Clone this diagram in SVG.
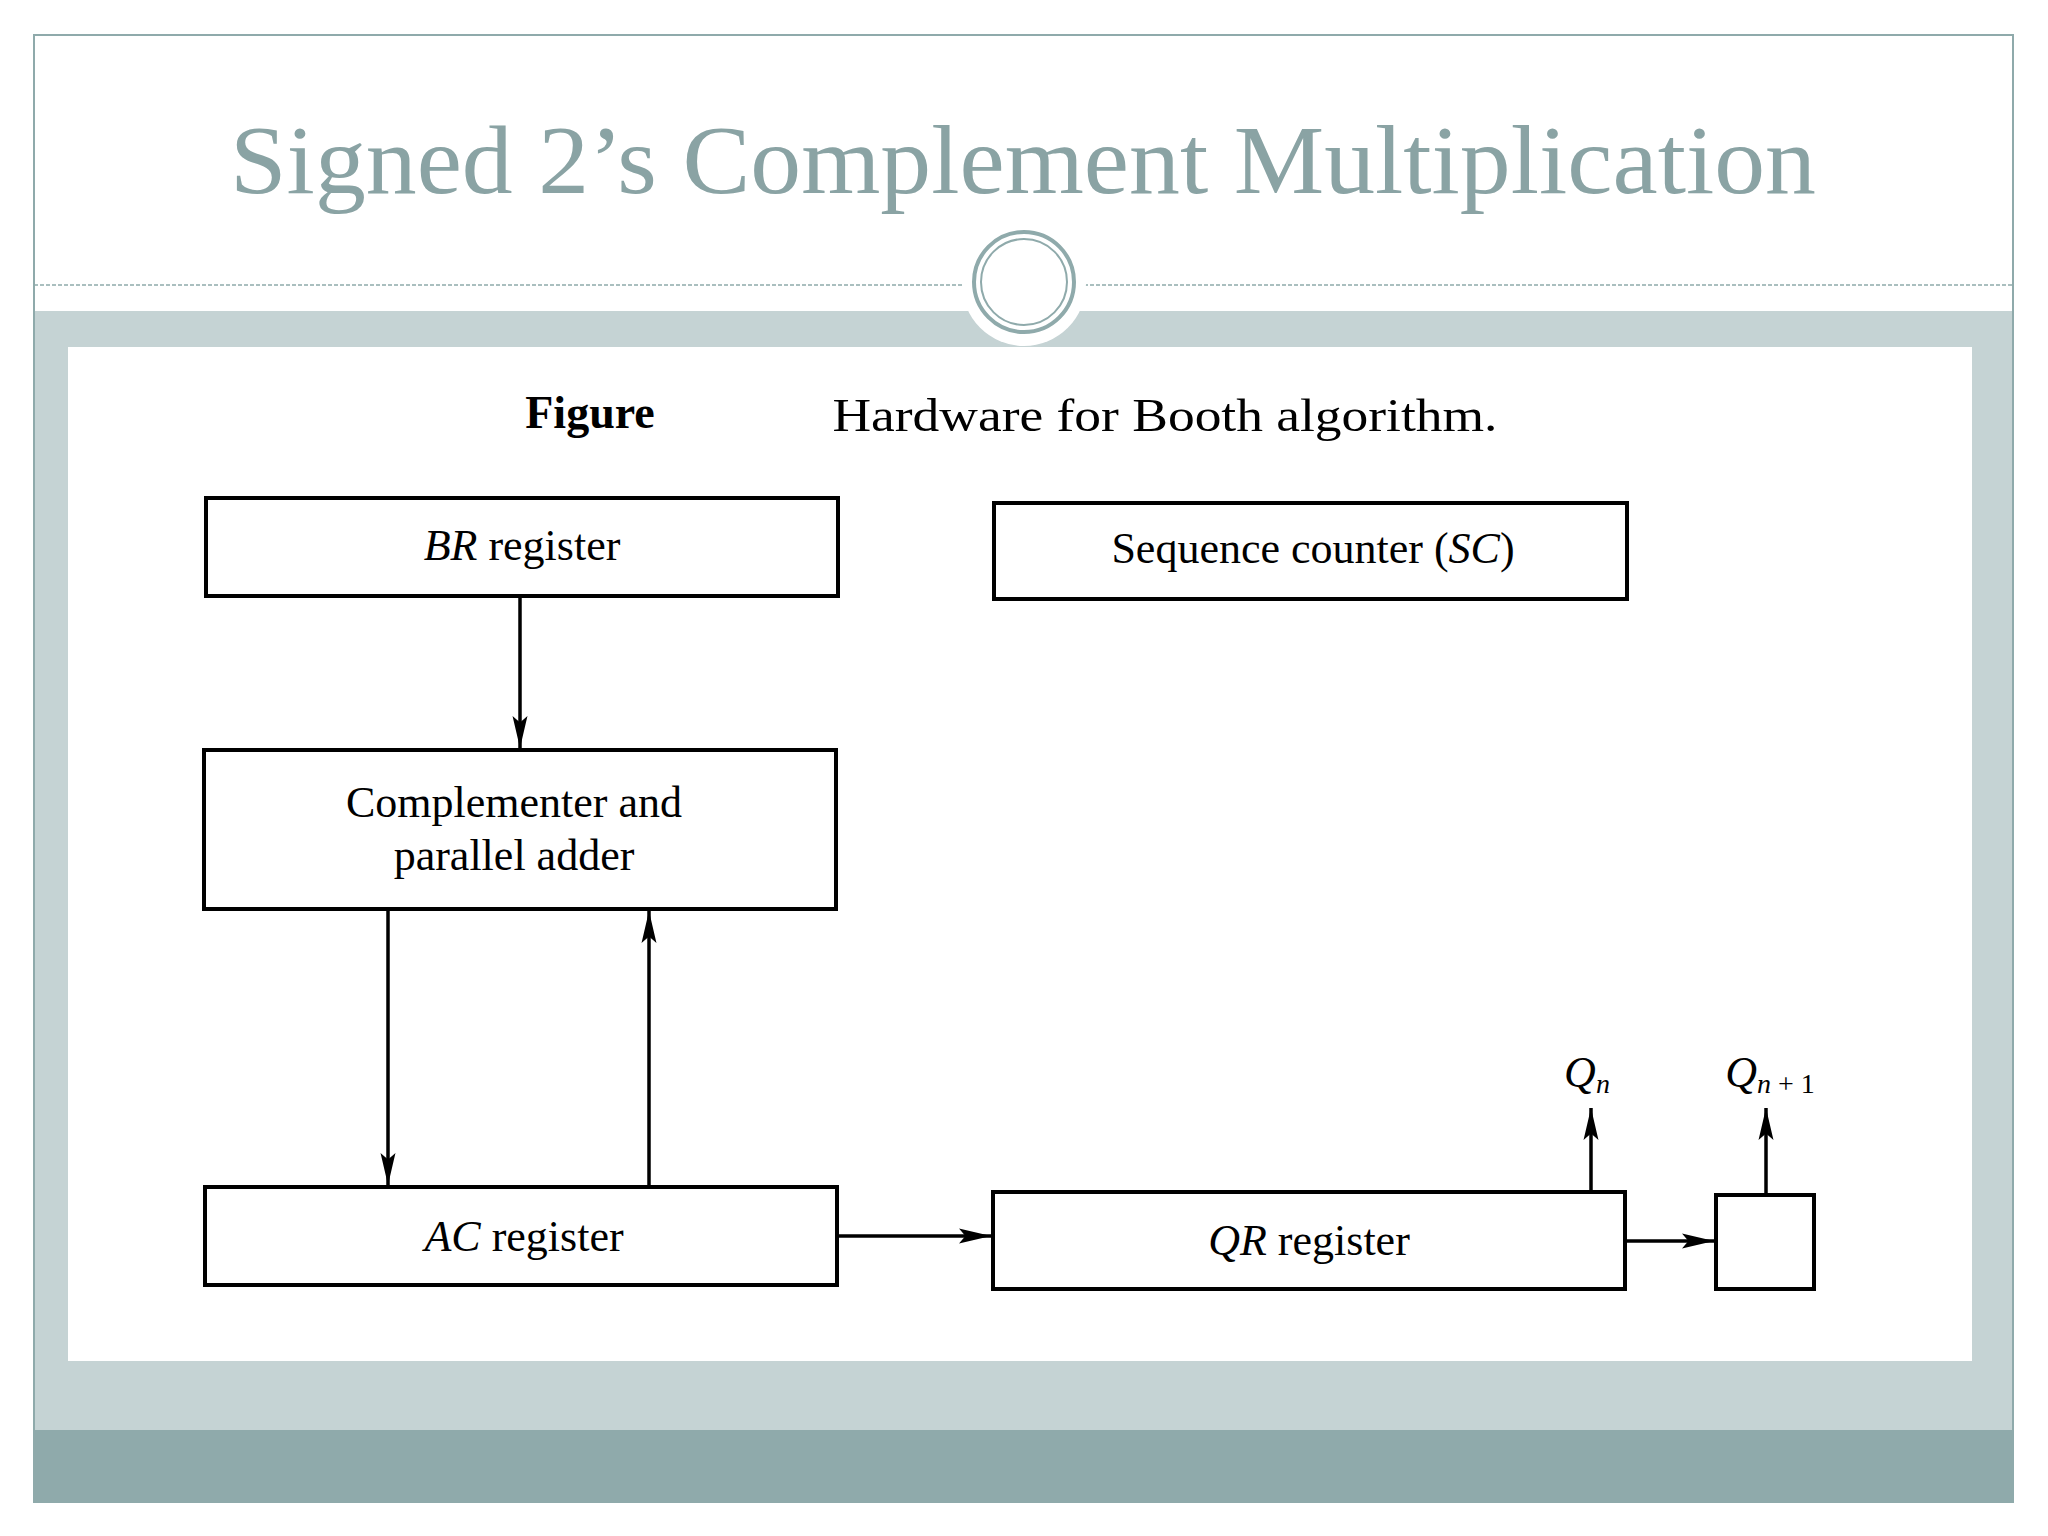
<svg xmlns="http://www.w3.org/2000/svg" width="2048" height="1536" viewBox="0 0 2048 1536">
<defs>
<marker id="ah" viewBox="0 0 30 14" refX="30" refY="7" markerWidth="32" markerHeight="16" markerUnits="userSpaceOnUse" orient="auto"><path d="M0,0 L30,7 L0,14 L6,7 z" fill="#000"/></marker>
<style>
.b{fill:#fff;stroke:#000;stroke-width:4}
.t{font-family:"Liberation Serif",serif;font-size:44px;fill:#000;text-anchor:middle}
.c line{stroke:#000;stroke-width:3.5;marker-end:url(#ah)}
</style>
</defs>
<rect width="2048" height="1536" fill="#fff"/>
<rect x="34" y="311" width="1979" height="1119" fill="#c5d3d4"/>
<rect x="34" y="1430" width="1979" height="72" fill="#8faaab"/>
<rect x="34" y="35" width="1979" height="1467" fill="none" stroke="#8faaab" stroke-width="2"/>
<line x1="34" y1="285" x2="2013" y2="285" stroke="#8faaab" stroke-width="1.5" stroke-dasharray="4,2"/>
<circle cx="1024" cy="284" r="62" fill="#fff"/>
<circle cx="1024" cy="282" r="50" fill="#fff" stroke="#8faaab" stroke-width="4"/>
<circle cx="1024" cy="282" r="43" fill="none" stroke="#8faaab" stroke-width="2"/>
<text x="1023" y="193" font-family="Liberation Serif,serif" font-size="98" fill="#8aa3a4" text-anchor="middle" textLength="1586" lengthAdjust="spacingAndGlyphs">Signed 2’s Complement Multiplication</text>
<rect x="68" y="347" width="1904" height="1014" fill="#fff"/>
<text x="590" y="428" class="t" style="font-weight:bold;font-size:46px">Figure</text>
<text x="1165" y="431" class="t" style="font-size:46px" textLength="665" lengthAdjust="spacingAndGlyphs">Hardware for Booth algorithm.</text>
<g id="br"><rect class="b" x="206" y="498" width="632" height="98"/><text class="t" x="522" y="560"><tspan font-style="italic">BR</tspan> register</text></g>
<g id="sc"><rect class="b" x="994" y="503" width="633" height="96"/><text class="t" x="1313" y="563">Sequence counter (<tspan font-style="italic">SC</tspan>)</text></g>
<g id="comp"><rect class="b" x="204" y="750" width="632" height="159"/><text class="t" x="514" y="817">Complementer and</text><text class="t" x="514" y="870">parallel adder</text></g>
<g id="ac"><rect class="b" x="205" y="1187" width="632" height="98"/><text class="t" x="524" y="1251"><tspan font-style="italic">AC</tspan> register</text></g>
<g id="qr"><rect class="b" x="993" y="1192" width="632" height="97"/><text class="t" x="1309" y="1255"><tspan font-style="italic">QR</tspan> register</text></g>
<g id="qn1"><rect class="b" x="1716" y="1195" width="98" height="94"/></g>
<text class="t" x="1587" y="1087" font-style="italic">Q<tspan font-size="28" dy="6">n</tspan></text>
<text class="t" x="1770" y="1087"><tspan font-style="italic">Q</tspan><tspan font-size="28" dy="6"><tspan font-style="italic">n</tspan> + 1</tspan></text>
<g class="c">
<line x1="520" y1="596" x2="520" y2="748"/>
<line x1="388" y1="909" x2="388" y2="1185"/>
<line x1="649" y1="1187" x2="649" y2="911"/>
<line x1="837" y1="1236" x2="991" y2="1236"/>
<line x1="1625" y1="1241" x2="1714" y2="1241"/>
<line x1="1591" y1="1192" x2="1591" y2="1108"/>
<line x1="1766" y1="1195" x2="1766" y2="1108"/>
</g>
</svg>
